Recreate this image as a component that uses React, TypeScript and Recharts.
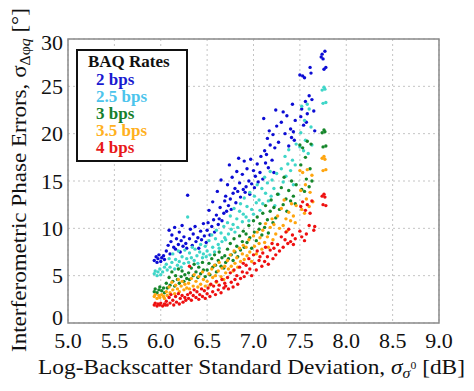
import React from "react";
import { ScatterChart, Scatter, XAxis, YAxis, CartesianGrid, ReferenceArea } from "recharts";

const xTicks = [5.0, 5.5, 6.0, 6.5, 7.0, 7.5, 8.0, 8.5, 9.0];
const yTicks = [0, 5, 10, 15, 20, 25, 30];
const seriesNames = ["2 bps", "2.5 bps", "3 bps", "3.5 bps", "4 bps"];

const bps2: number[][] = [
  [5.93,6.6],[5.95,7.0],[5.96,6.4],[5.97,6.8],[5.98,7.2],[6.0,6.5],[6.01,6.9],[6.03,7.1],[6.04,6.7],
  [6.06,7.6],[6.08,8.2],[6.09,9.8],[6.1,7.3],[6.11,8.6],[6.12,9.3],[6.14,8.0],[6.15,10.1],[6.16,7.8],[6.17,8.9],[6.19,8.3],[6.2,9.6],[6.21,7.5],[6.22,8.7],[6.23,10.3],[6.24,8.1],[6.25,9.1],[6.27,8.4],[6.28,7.9],[6.29,13.5],
  [6.31,8.9],[6.32,9.9],[6.34,8.2],[6.35,9.4],[6.37,10.2],[6.38,8.6],[6.4,9.0],[6.41,7.9],[6.43,9.7],[6.44,8.8],[6.46,10.5],[6.47,9.2],[6.49,8.5],
  [6.5,9.8],[6.51,10.6],[6.52,11.9],[6.53,9.3],[6.55,10.2],[6.56,12.8],[6.57,10.9],[6.58,9.6],[6.6,11.4],[6.61,13.9],[6.62,10.4],[6.63,11.0],[6.64,12.2],[6.65,15.1],[6.66,10.8],[6.68,11.6],[6.69,12.9],[6.7,13.4],
  [6.71,11.8],[6.72,14.6],[6.73,12.4],[6.74,16.7],[6.75,13.1],[6.76,12.0],[6.77,15.4],[6.78,13.7],[6.8,14.2],[6.81,12.7],[6.82,16.0],[6.83,13.9],[6.84,17.4],[6.85,14.8],[6.86,13.3],[6.88,15.7],[6.89,14.1],
  [6.9,17.1],[6.91,13.8],[6.92,14.4],[6.93,16.3],[6.95,15.0],[6.96,13.6],[6.97,17.3],[6.98,14.7],[7.0,16.1],[7.01,14.3],[7.02,15.5],[7.04,16.8],[7.05,14.9],[7.07,15.9],[7.08,17.6],[7.1,15.2],
  [7.11,21.6],[7.12,18.2],[7.13,16.9],[7.14,17.8],[7.15,19.5],[7.16,16.4],[7.17,20.3],[7.18,18.8],[7.2,17.2],[7.21,19.9],[7.22,15.9],[7.23,18.5],[7.24,22.5],[7.25,20.8],[7.27,19.1],
  [7.3,21.2],[7.32,22.3],[7.34,20.0],[7.36,21.9],[7.38,18.7],[7.4,20.5],[7.41,19.6],[7.42,23.1],[7.43,20.2],[7.44,19.3],[7.45,21.4],
  [7.5,26.2],[7.51,21.8],[7.52,22.6],[7.53,26.1],[7.54,20.9],[7.55,25.9],[7.56,23.4],[7.57,21.2],[7.58,22.1],[7.6,24.0],[7.61,27.0],[7.62,26.4],[7.63,23.6],[7.65,22.4],[7.66,20.3],
  [7.73,28.1],[7.74,28.4],[7.75,27.9],[7.77,28.7],[7.76,26.8],[7.78,27.0]
];

const bps25: number[][] = [
  [5.93,5.2],[5.94,5.5],[5.96,5.0],[5.97,5.4],[5.99,5.7],[6.0,5.1],[6.02,5.4],[6.04,5.9],
  [6.06,6.2],[6.07,5.6],[6.09,6.8],[6.1,5.9],[6.12,6.4],[6.13,7.3],[6.15,5.7],[6.16,6.7],[6.18,6.1],[6.19,7.6],[6.2,6.5],[6.22,5.9],[6.23,7.0],[6.25,6.3],[6.26,7.7],[6.28,6.8],[6.29,11.2],
  [6.3,6.4],[6.31,7.4],[6.33,6.9],[6.34,8.0],[6.36,6.6],[6.37,7.8],[6.39,7.1],[6.4,6.3],[6.42,7.5],[6.43,8.3],[6.45,6.9],[6.46,7.3],[6.48,8.1],[6.49,7.0],
  [6.5,7.6],[6.52,8.7],[6.53,7.2],[6.55,9.3],[6.56,8.0],[6.58,7.5],[6.59,8.9],[6.6,9.8],[6.62,8.3],[6.63,7.9],[6.65,9.5],[6.66,8.6],[6.68,10.2],[6.69,9.0],
  [6.7,8.8],[6.72,10.6],[6.73,9.4],[6.75,11.3],[6.76,9.9],[6.78,10.4],[6.79,12.1],[6.8,9.6],[6.82,11.0],[6.83,10.1],[6.85,11.8],[6.86,12.6],[6.88,10.7],[6.89,11.5],
  [6.9,13.2],[6.92,11.2],[6.93,12.3],[6.95,10.8],[6.96,13.8],[6.98,12.0],[7.0,11.5],[7.01,13.4],[7.03,12.7],[7.04,14.6],[7.06,13.0],[7.07,11.9],[7.09,14.2],
  [7.1,12.6],[7.12,15.4],[7.13,13.7],[7.15,14.8],[7.16,12.9],[7.18,16.0],[7.19,13.4],[7.2,15.1],[7.22,14.2],[7.23,12.4],[7.25,15.8],[7.27,13.6],
  [7.3,16.3],[7.32,14.9],[7.34,17.6],[7.35,15.5],[7.37,16.8],[7.38,18.3],[7.4,16.1],[7.42,17.2],[7.43,14.6],[7.45,16.7],[7.46,18.9],
  [7.5,18.6],[7.51,20.1],[7.52,22.9],[7.54,18.2],[7.55,21.4],[7.56,19.3],[7.58,23.1],[7.59,17.9],[7.6,22.6],[7.62,20.7],[7.63,18.8],
  [7.74,24.6],[7.76,24.9],[7.77,24.7],[7.78,23.3],[7.75,23.2]
];

const bps3: number[][] = [
  [5.93,3.3],[5.94,3.6],[5.96,3.2],[5.98,3.5],[5.99,3.8],[6.01,3.4],[6.03,3.7],[6.04,3.2],
  [6.06,4.2],[6.07,3.7],[6.09,4.8],[6.1,4.0],[6.12,5.4],[6.13,4.4],[6.15,3.9],[6.16,5.0],[6.18,4.6],[6.19,5.7],[6.2,4.2],[6.22,4.9],[6.23,5.5],[6.25,4.4],[6.26,5.1],[6.28,4.7],
  [6.3,5.3],[6.31,4.6],[6.33,5.8],[6.35,5.0],[6.36,6.2],[6.38,5.4],[6.4,4.8],[6.41,5.9],[6.43,5.2],[6.45,6.4],[6.46,5.6],[6.48,4.9],
  [6.5,5.6],[6.52,6.3],[6.53,5.1],[6.55,6.8],[6.56,5.9],[6.58,7.2],[6.59,6.1],[6.6,5.4],[6.62,6.6],[6.63,7.5],[6.65,6.0],[6.66,6.9],[6.68,5.8],[6.69,7.1],
  [6.7,6.4],[6.72,7.8],[6.73,6.8],[6.75,8.4],[6.76,7.2],[6.78,6.6],[6.79,8.9],[6.8,7.5],[6.82,8.1],[6.83,7.0],[6.85,9.2],[6.86,7.7],[6.88,8.6],[6.89,9.7],
  [6.9,8.0],[6.92,9.4],[6.93,8.5],[6.95,10.3],[6.96,9.0],[6.98,7.9],[7.0,10.8],[7.01,9.6],[7.03,8.7],[7.04,11.2],[7.06,9.9],[7.07,10.5],[7.09,9.3],
  [7.1,11.6],[7.12,10.1],[7.13,12.4],[7.15,10.9],[7.16,9.5],[7.18,11.8],[7.19,13.0],[7.21,10.6],[7.22,12.2],[7.24,11.1],[7.26,13.6],[7.28,12.0],
  [7.3,14.3],[7.32,12.5],[7.33,15.4],[7.35,13.1],[7.36,11.8],[7.38,14.0],[7.4,12.9],[7.41,15.0],[7.43,13.4],[7.45,12.6],[7.46,14.6],
  [7.5,18.8],[7.51,16.7],[7.52,14.1],[7.53,18.5],[7.55,13.9],[7.56,17.5],[7.57,15.2],[7.58,19.2],[7.6,14.4],[7.61,16.3],[7.62,18.9],[7.63,15.0],
  [7.74,20.1],[7.76,20.4],[7.77,20.2],[7.75,18.6],[7.78,18.7]
];

const bps35: number[][] = [
  [5.93,2.8],[5.94,3.0],[5.96,2.6],[5.98,2.9],[5.99,2.7],[6.01,3.0],[6.03,2.8],[6.04,2.6],
  [6.06,3.3],[6.07,2.9],[6.09,3.8],[6.1,3.2],[6.12,4.3],[6.13,3.5],[6.15,3.1],[6.16,4.0],[6.18,3.6],[6.19,4.6],[6.2,3.3],[6.22,3.9],[6.23,4.4],[6.25,3.5],[6.26,4.1],[6.28,3.7],
  [6.3,4.2],[6.31,3.6],[6.33,4.7],[6.35,3.9],[6.36,5.1],[6.38,4.4],[6.4,3.8],[6.41,4.9],[6.43,4.1],[6.45,5.4],[6.46,4.6],[6.48,3.9],
  [6.5,4.4],[6.52,5.2],[6.53,4.0],[6.55,5.7],[6.56,4.8],[6.58,6.1],[6.59,5.0],[6.6,4.3],[6.62,5.5],[6.63,6.4],[6.65,4.9],[6.66,5.8],[6.68,4.6],[6.69,6.0],
  [6.7,5.3],[6.72,6.6],[6.73,5.7],[6.75,7.2],[6.76,6.0],[6.78,5.5],[6.79,7.6],[6.8,6.3],[6.82,6.9],[6.83,5.9],[6.85,7.9],[6.86,6.5],[6.88,7.3],[6.89,8.2],
  [6.9,6.7],[6.92,8.0],[6.93,7.1],[6.95,8.8],[6.96,7.5],[6.98,6.5],[7.0,9.2],[7.01,8.1],[7.03,7.3],[7.04,9.6],[7.06,8.4],[7.07,9.0],[7.09,7.8],
  [7.1,9.8],[7.12,8.5],[7.13,10.5],[7.15,9.1],[7.16,8.0],[7.18,10.1],[7.2,11.0],[7.21,8.8],[7.22,10.4],[7.24,9.4],[7.26,11.3],[7.28,10.0],
  [7.3,12.1],[7.32,10.3],[7.33,13.0],[7.35,11.0],[7.36,9.7],[7.38,11.7],[7.4,10.8],[7.41,12.6],[7.43,11.3],[7.45,10.6],[7.46,12.4],
  [7.5,16.1],[7.51,14.0],[7.52,12.0],[7.53,15.9],[7.55,11.6],[7.56,14.6],[7.57,13.1],[7.58,16.2],[7.6,12.3],[7.61,13.8],[7.63,15.6],[7.64,12.8],
  [7.74,17.4],[7.76,17.6],[7.77,17.3],[7.75,16.1],[7.78,16.2]
];

const bps4: number[][] = [
  [5.93,1.9],[5.94,2.1],[5.96,1.8],[5.97,2.0],[5.99,1.9],[6.0,2.1],[6.02,1.8],[6.04,2.0],[6.05,1.9],
  [6.06,2.3],[6.07,1.9],[6.09,2.7],[6.1,2.1],[6.11,3.0],[6.13,2.4],[6.14,1.9],[6.16,2.8],[6.17,2.2],[6.19,3.1],[6.2,2.0],[6.21,2.6],[6.23,2.9],[6.24,2.2],[6.26,2.7],[6.27,2.4],[6.29,3.0],
  [6.31,6.0],[6.3,2.6],[6.32,3.2],[6.33,2.4],[6.35,2.9],[6.36,3.5],[6.38,2.7],[6.39,3.3],[6.41,2.5],[6.42,3.0],[6.44,3.6],[6.45,2.8],[6.47,3.4],[6.48,2.6],
  [6.5,3.1],[6.51,3.7],[6.53,2.8],[6.54,4.1],[6.56,3.3],[6.57,3.9],[6.59,3.0],[6.6,4.4],[6.62,3.5],[6.63,4.0],[6.65,3.2],[6.66,4.6],[6.68,3.7],[6.69,4.2],
  [6.7,3.9],[6.72,4.8],[6.73,3.6],[6.75,5.3],[6.76,4.3],[6.78,3.8],[6.79,5.6],[6.8,4.6],[6.82,5.0],[6.83,4.1],[6.85,5.9],[6.86,4.7],[6.88,5.4],[6.89,6.3],
  [6.9,4.9],[6.92,6.1],[6.93,5.3],[6.95,6.8],[6.96,5.7],[6.98,5.0],[7.0,7.2],[7.01,6.3],[7.03,5.6],[7.04,7.6],[7.06,6.6],[7.07,7.0],[7.09,6.0],
  [7.1,7.4],[7.12,6.5],[7.13,8.0],[7.15,7.0],[7.16,6.2],[7.18,7.7],[7.2,8.4],[7.21,6.8],[7.22,7.9],[7.24,7.2],[7.26,8.3],[7.28,7.6],
  [7.3,9.1],[7.32,8.0],[7.34,8.8],[7.35,9.6],[7.37,8.4],[7.38,9.9],[7.4,8.6],[7.42,9.3],[7.43,8.3],[7.45,8.9],
  [7.5,9.7],[7.51,12.3],[7.52,9.1],[7.53,12.8],[7.55,8.7],[7.56,11.9],[7.57,9.4],[7.58,12.5],[7.6,10.3],[7.61,11.6],[7.63,12.9],[7.65,9.8],[7.66,10.2],
  [7.74,13.4],[7.76,13.6],[7.77,13.3],[7.75,12.5],[7.78,12.4]
];

const pointColors = ["#0c0cd4", "#3fd6c8", "#15862a", "#ffa50f", "#ee1010"];
const legendColors = ["#1a1ad0", "#4cc4ec", "#17802c", "#ffb020", "#e81818"];

const allSeries = [bps2, bps25, bps3, bps35, bps4];
const toPts = (arr: number[][]) => arr.map(([x, y]) => ({ x, y }));

const SERIF = "'Liberation Serif', 'Times New Roman', serif";

const makeDot = (color: string) => (props: any) => {
  const { cx, cy } = props;
  if (cx == null || cy == null) return <g />;
  return <circle cx={cx} cy={cy} r={1.7} fill={color} />;
};

const YTick = (props: any) => {
  const { x, y, payload } = props;
  const v = payload?.value;
  const shift = v === 0 ? -6 : v === 30 ? 3 : 0;
  return (
    <text x={x} y={y + shift} dy="0.355em" textAnchor="end" fontSize={22} fill="#111" fontFamily={SERIF}>
      {v}
    </text>
  );
};

const XLabel = () => (
  <text x={38} y={374} fontSize={22} fontFamily={SERIF} fill="#111" textLength={427} lengthAdjust="spacingAndGlyphs">
    Log-Backscatter Standard Deviation,{" "}
    <tspan fontStyle="italic">σ</tspan>
    <tspan fontStyle="italic" fontSize={15} dy={4}>σ</tspan>
    <tspan fontSize={11} dy={-9}>0</tspan>
    <tspan dy={5}> [dB]</tspan>
  </text>
);

const YLabel = () => (
  <text x={0} y={0} transform="translate(26,352) rotate(-90)" fontSize={22} fontFamily={SERIF} fill="#111" textLength={344} lengthAdjust="spacingAndGlyphs">
    Interferometric Phase Errors, σ
    <tspan fontSize={15} dy={4}>Δφ</tspan>
    <tspan fontSize={15} fontStyle="italic">q</tspan>
    <tspan dy={-4}> [°]</tspan>
  </text>
);

export default function App() {
  return (
    <div style={{ position: "absolute", left: 0, top: 0, width: 474, height: 391, background: "#fff" }}>
      <ScatterChart width={474} height={391} margin={{ top: 39, right: 35, bottom: 0, left: 0 }}>
        <CartesianGrid stroke="#c4c4c4" strokeDasharray="2 3" />
        <XAxis
          type="number"
          dataKey="x"
          domain={[5, 9]}
          ticks={xTicks}
          tickFormatter={(v: number) => v.toFixed(1)}
          height={68}
          tickSize={0}
          tickMargin={9}
          axisLine={false}
          tick={{ fontSize: 22, fill: "#111", fontFamily: SERIF }}
          label={{ content: () => <XLabel /> }}
        />
        <YAxis
          type="number"
          dataKey="y"
          domain={[0, 30]}
          ticks={yTicks}
          width={68}
          tickSize={0}
          tickMargin={5}
          axisLine={false}
          tick={<YTick />}
          label={{ content: () => <YLabel /> }}
        />
        {allSeries.map((s, i) => (
          <Scatter
            key={seriesNames[i]}
            name={seriesNames[i]}
            data={toPts(s)}
            fill={pointColors[i]}
            shape={makeDot(pointColors[i])}
            isAnimationActive={false}
          />
        ))}
        <ReferenceArea x1={5} x2={9} y1={0} y2={30} fill="none" stroke="#8a8a8a" strokeWidth={1.5} ifOverflow="visible" />
      </ScatterChart>
      <div
        style={{
          position: "absolute",
          left: 76,
          top: 49,
          width: 112,
          height: 113,
          boxSizing: "border-box",
          border: "2.5px solid #111",
          background: "#fff",
          fontFamily: SERIF,
          fontWeight: "bold",
          fontSize: 17,
        }}
      >
        <div style={{ position: "absolute", left: 10, top: 3, lineHeight: "16px", color: "#111", whiteSpace: "nowrap" }}>BAQ Rates</div>
        {seriesNames.map((n, i) => (
          <div
            key={n}
            style={{ position: "absolute", left: 18, top: 20.5 + i * 17.2, lineHeight: "16px", color: legendColors[i], whiteSpace: "nowrap" }}
          >
            {n}
          </div>
        ))}
      </div>
    </div>
  );
}
